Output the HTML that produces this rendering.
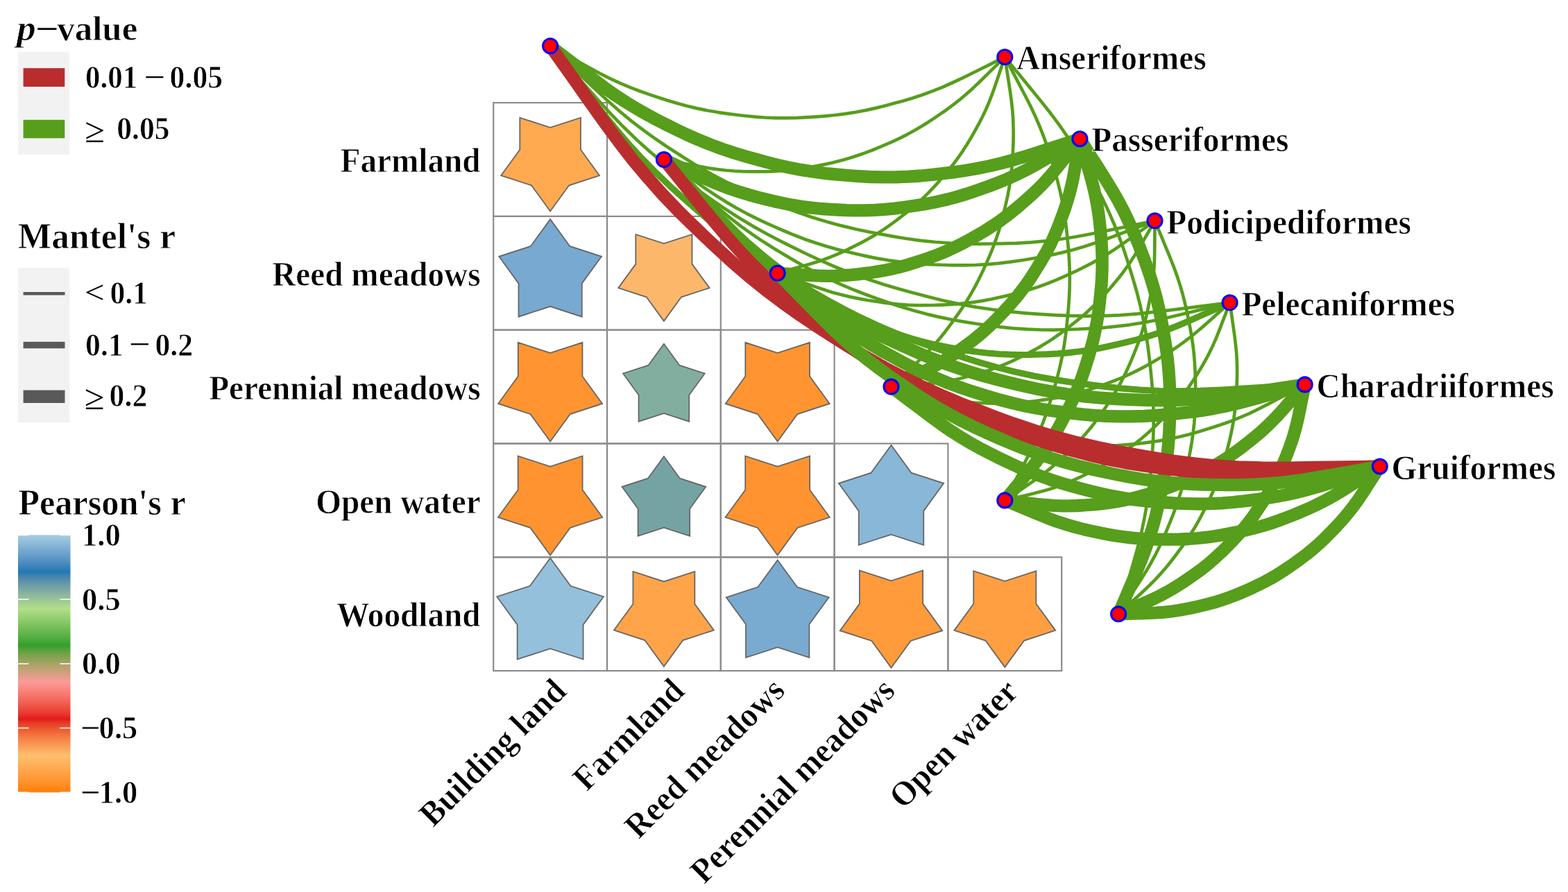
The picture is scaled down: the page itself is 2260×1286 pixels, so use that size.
<!DOCTYPE html>
<html><head><meta charset="utf-8"><title>Mantel test correlation plot</title>
<style>html,body{margin:0;padding:0;background:#fff;width:2260px;height:1286px;overflow:hidden}svg{display:block}text{font-family:"Liberation Serif",serif;font-weight:bold;fill:#000;stroke:#fff;stroke-width:0.8px;stroke-linejoin:round}.n{font-weight:normal;stroke:none}</style></head><body>
<svg width="2260" height="1286" viewBox="0 0 2260 1286">
<rect width="2260" height="1286" fill="#fff"/>
<defs><linearGradient id="cb" x1="0" y1="0" x2="0" y2="1">
<stop offset="0.0000" stop-color="#A6CEE3"/>
<stop offset="0.0179" stop-color="#98C3DD"/>
<stop offset="0.0357" stop-color="#8AB8D7"/>
<stop offset="0.0536" stop-color="#7CADD1"/>
<stop offset="0.0714" stop-color="#6DA2CC"/>
<stop offset="0.0893" stop-color="#5E97C6"/>
<stop offset="0.1071" stop-color="#4D8DC0"/>
<stop offset="0.1250" stop-color="#3982BA"/>
<stop offset="0.1429" stop-color="#1F78B4"/>
<stop offset="0.1607" stop-color="#4484B0"/>
<stop offset="0.1786" stop-color="#5B90AB"/>
<stop offset="0.1964" stop-color="#6D9DA7"/>
<stop offset="0.2143" stop-color="#7DA9A2"/>
<stop offset="0.2321" stop-color="#8CB79D"/>
<stop offset="0.2500" stop-color="#99C497"/>
<stop offset="0.2679" stop-color="#A6D191"/>
<stop offset="0.2857" stop-color="#B2DF8A"/>
<stop offset="0.3036" stop-color="#A4D77E"/>
<stop offset="0.3214" stop-color="#95CF73"/>
<stop offset="0.3393" stop-color="#87C767"/>
<stop offset="0.3571" stop-color="#78C05C"/>
<stop offset="0.3750" stop-color="#68B850"/>
<stop offset="0.3929" stop-color="#58B044"/>
<stop offset="0.4107" stop-color="#47A839"/>
<stop offset="0.4286" stop-color="#33A02C"/>
<stop offset="0.4464" stop-color="#59A13C"/>
<stop offset="0.4643" stop-color="#76A24A"/>
<stop offset="0.4821" stop-color="#8EA358"/>
<stop offset="0.5000" stop-color="#A6A365"/>
<stop offset="0.5179" stop-color="#BCA272"/>
<stop offset="0.5357" stop-color="#D1A07F"/>
<stop offset="0.5536" stop-color="#E69D8C"/>
<stop offset="0.5714" stop-color="#FB9A99"/>
<stop offset="0.5893" stop-color="#FA8D89"/>
<stop offset="0.6071" stop-color="#F88179"/>
<stop offset="0.6250" stop-color="#F67369"/>
<stop offset="0.6429" stop-color="#F3665A"/>
<stop offset="0.6607" stop-color="#F0574A"/>
<stop offset="0.6786" stop-color="#EC473B"/>
<stop offset="0.6964" stop-color="#E8352C"/>
<stop offset="0.7143" stop-color="#E31A1C"/>
<stop offset="0.7321" stop-color="#E83D25"/>
<stop offset="0.7500" stop-color="#EC552F"/>
<stop offset="0.7679" stop-color="#F06939"/>
<stop offset="0.7857" stop-color="#F47C44"/>
<stop offset="0.8036" stop-color="#F78D4E"/>
<stop offset="0.8214" stop-color="#FA9E59"/>
<stop offset="0.8393" stop-color="#FCAF64"/>
<stop offset="0.8571" stop-color="#FDBF6F"/>
<stop offset="0.8750" stop-color="#FEB764"/>
<stop offset="0.8929" stop-color="#FFB059"/>
<stop offset="0.9107" stop-color="#FFA84E"/>
<stop offset="0.9286" stop-color="#FFA042"/>
<stop offset="0.9464" stop-color="#FF9836"/>
<stop offset="0.9643" stop-color="#FF9029"/>
<stop offset="0.9821" stop-color="#FF8719"/>
<stop offset="1.0000" stop-color="#FF7F00"/>
</linearGradient></defs>
<g fill="none" stroke="#8C8C8C" stroke-width="2.20">
<rect x="711.20" y="148.10" width="163.80" height="163.80"/>
<rect x="711.20" y="311.90" width="163.80" height="163.80"/>
<rect x="875.00" y="311.90" width="163.80" height="163.80"/>
<rect x="711.20" y="475.70" width="163.80" height="163.80"/>
<rect x="875.00" y="475.70" width="163.80" height="163.80"/>
<rect x="1038.80" y="475.70" width="163.80" height="163.80"/>
<rect x="711.20" y="639.50" width="163.80" height="163.80"/>
<rect x="875.00" y="639.50" width="163.80" height="163.80"/>
<rect x="1038.80" y="639.50" width="163.80" height="163.80"/>
<rect x="1202.60" y="639.50" width="163.80" height="163.80"/>
<rect x="711.20" y="803.30" width="163.80" height="163.80"/>
<rect x="875.00" y="803.30" width="163.80" height="163.80"/>
<rect x="1038.80" y="803.30" width="163.80" height="163.80"/>
<rect x="1202.60" y="803.30" width="163.80" height="163.80"/>
<rect x="1366.40" y="803.30" width="163.80" height="163.80"/>
</g>
<g stroke="#666666" stroke-width="1.80" stroke-linejoin="miter">
<polygon points="793.10,304.57 820.19,267.29 864.02,253.04 836.93,215.76 836.93,169.67 793.10,183.91 749.27,169.67 749.27,215.76 722.18,253.04 766.01,267.29" fill="#FFA950"/>
<polygon points="793.10,316.13 821.32,354.96 866.97,369.80 838.75,408.63 838.75,456.64 793.10,441.80 747.45,456.64 747.45,408.63 719.23,369.80 764.88,354.96" fill="#78A9D0"/>
<polygon points="956.90,462.87 981.99,428.34 1022.59,415.14 997.50,380.61 997.50,337.92 956.90,351.11 916.30,337.92 916.30,380.61 891.21,415.14 931.81,428.34" fill="#FCB76A"/>
<polygon points="793.10,636.47 821.75,597.04 868.11,581.97 839.46,542.54 839.46,493.79 793.10,508.86 746.74,493.79 746.74,542.54 718.09,581.97 764.45,597.04" fill="#FF9430"/>
<polygon points="956.90,495.73 979.38,526.66 1015.74,538.48 993.27,569.42 993.27,607.65 956.90,595.84 920.53,607.65 920.53,569.42 898.06,538.48 934.42,526.66" fill="#82AEA0"/>
<polygon points="1120.70,636.47 1149.35,597.04 1195.71,581.97 1167.06,542.54 1167.06,493.79 1120.70,508.86 1074.34,493.79 1074.34,542.54 1045.69,581.97 1092.05,597.04" fill="#FF9430"/>
<polygon points="793.10,800.47 821.82,760.94 868.30,745.83 839.58,706.30 839.58,657.43 793.10,672.53 746.62,657.43 746.62,706.30 717.90,745.83 764.38,760.94" fill="#FF932F"/>
<polygon points="956.90,657.93 979.96,689.66 1017.26,701.79 994.21,733.52 994.21,772.75 956.90,760.63 919.59,772.75 919.59,733.52 896.54,701.79 933.84,689.66" fill="#75A3A4"/>
<polygon points="1120.70,800.47 1149.42,760.94 1195.90,745.83 1167.18,706.30 1167.18,657.43 1120.70,672.53 1074.22,657.43 1074.22,706.30 1045.50,745.83 1091.98,760.94" fill="#FF932F"/>
<polygon points="1284.50,641.83 1313.41,681.61 1360.18,696.81 1331.27,736.60 1331.27,785.77 1284.50,770.58 1237.73,785.77 1237.73,736.60 1208.82,696.81 1255.59,681.61" fill="#89B7D7"/>
<polygon points="793.10,804.43 822.44,844.81 869.92,860.24 840.58,900.63 840.58,950.54 793.10,935.12 745.62,950.54 745.62,900.63 716.28,860.24 763.76,844.81" fill="#94C0DC"/>
<polygon points="956.90,960.87 984.39,923.04 1028.87,908.58 1001.38,870.75 1001.38,823.98 956.90,838.43 912.42,823.98 912.42,870.75 884.93,908.58 929.41,923.04" fill="#FFA449"/>
<polygon points="1120.70,807.43 1148.95,846.31 1194.66,861.17 1166.41,900.05 1166.41,948.12 1120.70,933.26 1074.99,948.12 1074.99,900.05 1046.74,861.17 1092.45,846.31" fill="#79AAD0"/>
<polygon points="1284.50,962.77 1312.68,923.99 1358.27,909.17 1330.09,870.39 1330.09,822.44 1284.50,837.26 1238.91,822.44 1238.91,870.39 1210.73,909.17 1256.32,923.99" fill="#FF9B3B"/>
<polygon points="1448.30,961.87 1476.15,923.54 1521.22,908.89 1493.37,870.56 1493.37,823.17 1448.30,837.82 1403.23,823.17 1403.23,870.56 1375.38,908.89 1420.45,923.54" fill="#FF9F42"/>
</g>
<g fill="none" stroke-linecap="butt" stroke-linejoin="round">
<path d="M793.1 66.2 L794.4 66.9 L802.0 71.2 L816.4 79.2 L833.9 89.1 L850.8 98.4 L866.2 106.7 L880.6 113.9 L894.8 120.4 L909.2 126.4 L923.2 131.8 L936.4 136.4 L948.8 140.5 L961.2 144.5 L974.6 148.6 L989.1 152.5 L1004.2 156.1 L1019.4 159.3 L1034.2 161.8 L1048.1 163.8 L1061.0 165.5 L1073.9 167.0 L1087.8 168.4 L1102.8 169.5 L1118.4 170.1 L1133.9 170.2 L1148.9 169.9 L1162.9 169.2 L1175.9 168.3 L1188.9 167.3 L1202.8 166.0 L1217.7 164.1 L1233.1 161.7 L1248.4 158.9 L1263.0 155.6 L1276.6 152.2 L1289.2 148.8 L1301.7 145.4 L1315.1 141.4 L1329.4 136.7 L1344.0 131.4 L1358.6 125.6 L1373.3 119.0 L1389.1 111.6 L1406.4 103.0 L1424.4 94.1 L1439.2 86.7 L1446.9 82.9 L1448.3 82.2" stroke="#569E1B" stroke-width="4.70"/>
<path d="M956.9 230.0 L958.1 230.2 L964.7 231.5 L977.4 234.0 L992.9 237.1 L1007.7 239.9 L1021.1 242.3 L1033.6 244.1 L1045.8 245.5 L1058.0 246.5 L1069.7 247.1 L1080.7 247.3 L1090.8 247.4 L1101.0 247.3 L1112.0 247.1 L1123.7 246.5 L1135.9 245.5 L1148.0 244.1 L1159.6 242.4 L1170.4 240.5 L1180.4 238.6 L1190.4 236.6 L1201.1 234.2 L1212.5 231.3 L1224.2 228.0 L1235.8 224.3 L1246.9 220.4 L1257.2 216.5 L1266.6 212.6 L1276.0 208.7 L1286.0 204.4 L1296.7 199.4 L1307.6 193.8 L1318.2 188.0 L1328.4 182.0 L1337.6 176.2 L1346.2 170.6 L1354.6 164.9 L1363.6 158.7 L1373.1 151.7 L1382.7 144.2 L1392.1 136.3 L1401.5 127.9 L1411.4 118.5 L1422.2 107.9 L1433.4 96.9 L1442.6 87.8 L1447.4 83.0 L1448.3 82.2" stroke="#569E1B" stroke-width="4.70"/>
<path d="M1120.7 393.8 L1121.7 393.5 L1127.4 391.9 L1138.4 388.8 L1151.8 385.0 L1164.5 381.4 L1176.1 377.9 L1186.7 374.4 L1196.8 370.7 L1206.7 366.6 L1216.2 362.4 L1224.9 358.2 L1232.9 354.2 L1240.9 350.1 L1249.4 345.5 L1258.4 340.4 L1267.6 334.8 L1276.5 328.9 L1285.0 322.9 L1292.8 317.2 L1299.8 311.7 L1306.9 306.1 L1314.4 300.0 L1322.2 293.2 L1330.1 285.9 L1337.8 278.4 L1344.9 270.9 L1351.4 263.8 L1357.3 257.0 L1363.1 250.2 L1369.3 242.8 L1375.7 234.6 L1382.0 225.9 L1388.1 217.1 L1393.7 208.3 L1398.6 200.1 L1403.1 192.3 L1407.5 184.5 L1412.1 176.0 L1416.8 166.7 L1421.4 157.0 L1425.6 147.1 L1429.7 136.7 L1433.7 125.4 L1438.0 112.8 L1442.4 99.7 L1446.1 88.8 L1448.0 83.2 L1448.3 82.2" stroke="#569E1B" stroke-width="4.70"/>
<path d="M1284.5 557.6 L1285.4 556.8 L1290.2 552.3 L1299.4 543.6 L1310.7 533.0 L1321.4 522.9 L1331.0 513.6 L1339.7 504.7 L1347.8 495.8 L1355.5 486.7 L1362.7 477.7 L1369.1 469.1 L1375.0 461.0 L1380.8 452.9 L1386.9 444.0 L1393.1 434.3 L1399.3 424.1 L1405.1 413.7 L1410.4 403.5 L1415.1 393.8 L1419.3 384.8 L1423.4 375.7 L1427.6 365.8 L1431.9 355.1 L1436.0 343.9 L1439.7 332.5 L1442.9 321.5 L1445.7 311.1 L1448.0 301.4 L1450.3 291.7 L1452.6 281.2 L1454.7 269.8 L1456.5 258.0 L1457.9 246.2 L1459.0 234.7 L1459.7 224.0 L1460.1 214.0 L1460.5 204.1 L1460.7 193.3 L1460.5 181.8 L1460.1 169.9 L1459.2 157.9 L1457.8 145.6 L1456.0 132.3 L1453.8 117.7 L1451.4 102.4 L1449.5 89.9 L1448.5 83.4 L1448.3 82.2" stroke="#569E1B" stroke-width="4.70"/>
<path d="M1448.3 721.4 L1449.0 720.1 L1452.9 712.6 L1460.5 698.4 L1469.6 681.0 L1478.3 664.4 L1486.0 649.2 L1492.7 634.9 L1498.7 620.9 L1504.2 606.8 L1509.2 593.0 L1513.4 580.0 L1517.1 567.8 L1520.7 555.7 L1524.3 542.5 L1527.8 528.3 L1531.0 513.5 L1533.7 498.5 L1535.8 484.0 L1537.4 470.5 L1538.7 457.9 L1539.9 445.2 L1540.9 431.6 L1541.6 417.0 L1541.8 401.8 L1541.6 386.6 L1540.9 372.0 L1539.9 358.4 L1538.7 345.7 L1537.4 333.1 L1535.8 319.6 L1533.7 305.1 L1531.0 290.1 L1527.8 275.3 L1524.3 261.1 L1520.7 247.9 L1517.1 235.8 L1513.4 223.6 L1509.2 210.6 L1504.2 196.8 L1498.7 182.7 L1492.7 168.7 L1486.0 154.4 L1478.3 139.2 L1469.6 122.6 L1460.5 105.2 L1452.9 91.0 L1449.0 83.5 L1448.3 82.2" stroke="#569E1B" stroke-width="4.70"/>
<path d="M1612.1 885.2 L1612.6 883.4 L1615.7 873.0 L1621.5 853.1 L1628.5 829.0 L1635.2 805.9 L1641.0 784.8 L1645.7 765.2 L1649.7 746.0 L1653.0 726.9 L1655.6 708.3 L1657.6 690.9 L1659.1 674.7 L1660.5 658.5 L1661.7 641.0 L1662.5 622.2 L1662.7 602.8 L1662.2 583.3 L1661.2 564.6 L1659.8 547.1 L1658.2 530.9 L1656.4 514.8 L1654.2 497.4 L1651.3 478.8 L1647.7 459.7 L1643.5 440.7 L1638.9 422.5 L1634.1 405.7 L1629.4 390.1 L1624.6 374.6 L1619.1 358.0 L1612.6 340.3 L1605.4 322.2 L1597.7 304.4 L1589.6 287.4 L1581.7 271.8 L1574.0 257.5 L1566.3 243.2 L1557.7 227.9 L1548.0 211.9 L1537.4 195.5 L1526.2 179.4 L1514.2 163.3 L1500.6 146.1 L1485.4 127.5 L1469.5 108.0 L1456.3 92.0 L1449.5 83.7 L1448.3 82.2" stroke="#569E1B" stroke-width="4.70"/>
<path d="M793.1 66.2 L794.5 67.3 L802.6 73.6 L818.1 85.6 L836.8 100.1 L854.9 114.0 L871.4 126.4 L887.0 137.4 L902.5 147.5 L918.2 157.0 L933.7 165.8 L948.3 173.6 L962.0 180.5 L975.8 187.4 L990.8 194.5 L1007.0 201.6 L1024.1 208.5 L1041.3 214.9 L1058.2 220.5 L1074.0 225.3 L1088.9 229.4 L1103.7 233.5 L1119.7 237.6 L1137.1 241.5 L1155.1 244.9 L1173.3 247.8 L1190.9 250.1 L1207.4 251.7 L1222.7 253.0 L1238.1 254.1 L1254.6 255.0 L1272.4 255.4 L1290.7 255.4 L1309.1 254.7 L1326.9 253.5 L1343.3 251.9 L1358.6 250.2 L1373.9 248.3 L1390.3 246.0 L1407.8 243.0 L1425.8 239.4 L1443.8 235.1 L1462.3 230.1 L1482.0 224.2 L1503.7 217.2 L1526.3 209.9 L1545.0 203.9 L1554.7 200.8 L1556.4 200.2" stroke="#569E1B" stroke-width="18.30"/>
<path d="M956.9 230.0 L958.2 230.6 L965.3 233.9 L979.1 240.3 L995.8 248.1 L1011.7 255.5 L1026.4 262.0 L1040.1 267.6 L1053.5 272.6 L1067.0 277.1 L1080.2 281.1 L1092.6 284.5 L1104.1 287.4 L1115.7 290.2 L1128.2 292.9 L1141.7 295.6 L1155.8 297.9 L1169.9 299.7 L1183.6 301.0 L1196.4 301.9 L1208.3 302.5 L1220.2 303.1 L1233.0 303.4 L1246.8 303.3 L1261.0 302.9 L1275.2 301.9 L1288.9 300.6 L1301.6 299.0 L1313.4 297.3 L1325.2 295.5 L1337.8 293.4 L1351.3 290.7 L1365.2 287.5 L1379.0 283.8 L1392.2 279.9 L1404.3 275.8 L1415.6 271.9 L1426.8 267.9 L1438.8 263.3 L1451.5 258.1 L1464.5 252.2 L1477.4 245.9 L1490.4 239.0 L1504.3 231.1 L1519.5 222.1 L1535.4 212.7 L1548.4 205.0 L1555.2 201.0 L1556.4 200.2" stroke="#569E1B" stroke-width="18.30"/>
<path d="M1120.7 393.8 L1121.8 393.9 L1128.1 394.3 L1140.1 395.1 L1154.7 396.1 L1168.6 397.0 L1181.3 397.6 L1193.1 397.9 L1204.5 397.7 L1215.8 397.2 L1226.7 396.4 L1236.8 395.3 L1246.2 394.2 L1255.6 393.0 L1265.6 391.4 L1276.4 389.5 L1287.5 387.2 L1298.5 384.5 L1309.0 381.6 L1318.7 378.6 L1327.7 375.6 L1336.7 372.6 L1346.3 369.2 L1356.5 365.2 L1366.9 360.8 L1377.1 356.0 L1386.9 351.1 L1395.9 346.3 L1404.1 341.7 L1412.4 337.0 L1421.1 331.8 L1430.3 325.9 L1439.7 319.6 L1448.8 312.9 L1457.5 306.2 L1465.4 299.8 L1472.6 293.6 L1479.7 287.4 L1487.3 280.6 L1495.2 273.1 L1503.2 265.1 L1510.9 256.7 L1518.6 247.8 L1526.6 238.0 L1535.3 227.0 L1544.4 215.5 L1551.8 206.0 L1555.7 201.1 L1556.4 200.2" stroke="#569E1B" stroke-width="18.30"/>
<path d="M1284.5 557.6 L1285.5 557.2 L1290.8 554.7 L1301.1 549.9 L1313.6 544.1 L1325.5 538.5 L1336.3 533.3 L1346.1 528.1 L1355.4 522.9 L1364.5 517.3 L1373.2 511.7 L1381.0 506.2 L1388.3 501.0 L1395.5 495.7 L1403.1 489.9 L1411.1 483.5 L1419.2 476.5 L1427.0 469.3 L1434.4 462.1 L1441.1 455.2 L1447.2 448.7 L1453.2 442.2 L1459.5 435.0 L1466.2 427.1 L1472.7 418.7 L1479.1 410.1 L1484.9 401.7 L1490.1 393.6 L1494.8 386.0 L1499.5 378.4 L1504.3 370.2 L1509.3 361.2 L1514.2 351.7 L1518.7 342.0 L1522.8 332.6 L1526.4 323.7 L1529.5 315.3 L1532.6 307.0 L1535.8 297.9 L1538.9 288.1 L1541.8 277.9 L1544.4 267.5 L1546.8 256.7 L1548.9 244.9 L1551.1 231.9 L1553.4 218.3 L1555.3 207.1 L1556.2 201.3 L1556.4 200.2" stroke="#569E1B" stroke-width="18.30"/>
<path d="M1448.3 721.4 L1449.1 720.4 L1453.5 715.0 L1462.1 704.7 L1472.5 692.1 L1482.4 680.0 L1491.3 668.9 L1499.1 658.4 L1506.4 648.0 L1513.3 637.4 L1519.6 627.0 L1525.3 617.1 L1530.3 607.8 L1535.3 598.5 L1540.5 588.4 L1545.8 577.4 L1550.9 565.8 L1555.6 554.1 L1559.8 542.7 L1563.4 531.9 L1566.6 521.8 L1569.7 511.7 L1572.8 500.8 L1575.9 489.0 L1578.6 476.6 L1581.0 464.2 L1582.9 452.2 L1584.4 440.9 L1585.5 430.4 L1586.6 419.9 L1587.6 408.6 L1588.3 396.4 L1588.6 383.8 L1588.6 371.1 L1588.1 358.9 L1587.4 347.6 L1586.5 337.1 L1585.5 326.6 L1584.3 315.3 L1582.6 303.2 L1580.5 290.7 L1578.0 278.3 L1574.9 265.5 L1571.2 251.8 L1566.9 236.8 L1562.4 221.1 L1558.7 208.2 L1556.7 201.4 L1556.4 200.2" stroke="#569E1B" stroke-width="18.30"/>
<path d="M1612.1 885.2 L1612.7 883.7 L1616.3 875.4 L1623.1 859.5 L1631.4 840.1 L1639.3 821.5 L1646.2 804.5 L1652.1 788.7 L1657.4 773.1 L1662.1 757.5 L1666.1 742.3 L1669.5 728.0 L1672.4 714.7 L1675.2 701.3 L1677.9 686.9 L1680.5 671.3 L1682.6 655.2 L1684.1 638.9 L1685.2 623.2 L1685.8 608.5 L1686.0 594.9 L1686.2 581.3 L1686.1 566.6 L1685.6 550.8 L1684.5 534.6 L1682.9 518.3 L1680.9 502.7 L1678.6 488.2 L1676.3 474.8 L1673.8 461.4 L1670.9 447.0 L1667.3 431.6 L1663.1 415.9 L1658.4 400.3 L1653.4 385.3 L1648.4 371.5 L1643.5 358.8 L1638.5 346.1 L1632.8 332.6 L1626.3 318.2 L1619.2 303.5 L1611.5 289.0 L1603.1 274.4 L1593.5 258.7 L1582.8 241.7 L1571.4 223.9 L1562.1 209.2 L1557.3 201.6 L1556.4 200.2" stroke="#569E1B" stroke-width="18.30"/>
<path d="M793.1 66.2 L794.6 67.7 L803.2 76.0 L819.7 91.9 L839.7 111.2 L859.0 129.6 L876.7 146.1 L893.5 160.8 L910.2 174.6 L927.3 187.7 L944.2 199.8 L960.2 210.7 L975.3 220.5 L990.5 230.2 L1007.0 240.4 L1025.0 250.7 L1044.0 260.9 L1063.3 270.5 L1082.2 279.1 L1100.0 286.7 L1116.7 293.4 L1133.5 300.0 L1151.6 306.8 L1171.3 313.5 L1191.9 319.8 L1212.7 325.4 L1232.9 330.3 L1251.9 334.2 L1269.6 337.6 L1287.3 340.9 L1306.4 344.0 L1327.0 346.8 L1348.4 349.0 L1369.9 350.5 L1390.7 351.4 L1410.0 351.6 L1428.0 351.5 L1446.0 351.2 L1465.4 350.6 L1486.2 349.4 L1507.6 347.4 L1529.1 344.7 L1551.2 341.2 L1575.0 336.8 L1601.1 331.4 L1628.3 325.8 L1650.7 321.1 L1662.4 318.7 L1664.5 318.3" stroke="#569E1B" stroke-width="4.70"/>
<path d="M956.9 230.0 L958.3 231.0 L965.9 236.3 L980.7 246.6 L998.6 259.2 L1015.8 271.1 L1031.6 281.7 L1046.5 291.1 L1061.2 299.7 L1076.1 307.8 L1090.7 315.1 L1104.5 321.6 L1117.4 327.3 L1130.4 333.0 L1144.4 338.8 L1159.7 344.7 L1175.7 350.2 L1191.8 355.3 L1207.6 359.7 L1222.4 363.3 L1236.2 366.5 L1250.0 369.6 L1264.9 372.6 L1281.0 375.3 L1297.8 377.7 L1314.6 379.5 L1330.9 380.8 L1346.1 381.5 L1360.3 382.0 L1374.4 382.3 L1389.6 382.4 L1406.0 382.0 L1422.9 381.1 L1439.7 379.6 L1456.0 377.7 L1471.1 375.5 L1485.0 373.2 L1499.0 370.8 L1513.9 367.9 L1529.9 364.4 L1546.3 360.2 L1562.6 355.5 L1579.3 350.1 L1597.3 343.7 L1616.9 336.3 L1637.3 328.6 L1654.2 322.2 L1662.9 318.9 L1664.5 318.3" stroke="#569E1B" stroke-width="4.70"/>
<path d="M1120.7 393.8 L1121.9 394.2 L1128.7 396.7 L1141.7 401.4 L1157.6 407.2 L1172.7 412.6 L1186.6 417.3 L1199.5 421.4 L1212.1 424.8 L1224.8 427.9 L1237.1 430.4 L1248.7 432.5 L1259.5 434.2 L1270.2 435.8 L1281.9 437.3 L1294.4 438.6 L1307.4 439.6 L1320.4 440.1 L1333.0 440.2 L1344.7 440.0 L1355.6 439.6 L1366.5 439.1 L1378.2 438.4 L1390.7 437.2 L1403.6 435.6 L1416.5 433.6 L1428.9 431.3 L1440.4 428.8 L1451.0 426.4 L1461.6 423.8 L1472.9 420.8 L1485.0 417.2 L1497.4 413.2 L1509.6 408.7 L1521.3 404.1 L1532.1 399.4 L1542.0 394.9 L1551.9 390.4 L1562.4 385.2 L1573.6 379.4 L1585.0 373.1 L1596.2 366.3 L1607.5 358.9 L1619.6 350.6 L1632.7 341.2 L1646.3 331.4 L1657.6 323.3 L1663.5 319.1 L1664.5 318.3" stroke="#569E1B" stroke-width="4.70"/>
<path d="M1284.5 557.6 L1285.5 557.5 L1291.4 557.1 L1302.7 556.2 L1316.5 555.2 L1329.6 554.1 L1341.5 553.0 L1352.5 551.6 L1363.1 550.0 L1373.6 548.0 L1383.6 545.7 L1392.9 543.3 L1401.5 541.0 L1410.1 538.6 L1419.3 535.8 L1429.1 532.6 L1439.1 528.9 L1448.9 524.9 L1458.4 520.8 L1467.0 516.7 L1475.0 512.7 L1483.0 508.7 L1491.5 504.2 L1500.4 499.1 L1509.5 493.6 L1518.4 487.7 L1526.9 481.8 L1534.6 476.1 L1541.7 470.7 L1548.7 465.2 L1556.1 459.2 L1564.0 452.5 L1571.8 445.3 L1579.5 437.9 L1586.6 430.4 L1593.1 423.4 L1599.0 416.7 L1604.8 409.9 L1610.9 402.6 L1617.3 394.5 L1623.6 385.9 L1629.7 377.1 L1635.7 367.8 L1641.9 357.5 L1648.5 346.1 L1655.4 334.2 L1661.0 324.3 L1664.0 319.2 L1664.5 318.3" stroke="#569E1B" stroke-width="4.70"/>
<path d="M1448.3 721.4 L1449.2 720.8 L1454.2 717.4 L1463.8 711.0 L1475.4 703.2 L1486.5 695.6 L1496.5 688.6 L1505.6 681.9 L1514.1 675.1 L1522.4 668.0 L1530.1 661.0 L1537.2 654.2 L1543.6 647.8 L1550.0 641.4 L1556.7 634.3 L1563.8 626.5 L1570.8 618.2 L1577.5 609.7 L1583.8 601.3 L1589.4 593.3 L1594.5 585.8 L1599.5 578.2 L1604.7 570.0 L1610.1 561.0 L1615.4 551.5 L1620.4 541.8 L1624.9 532.4 L1628.9 523.4 L1632.4 515.1 L1635.8 506.7 L1639.4 497.6 L1642.9 487.7 L1646.3 477.4 L1649.3 467.0 L1651.9 456.8 L1654.1 447.3 L1655.9 438.4 L1657.7 429.5 L1659.4 419.9 L1661.0 409.5 L1662.3 398.7 L1663.3 387.8 L1663.9 376.6 L1664.2 364.4 L1664.3 351.0 L1664.4 336.9 L1664.5 325.4 L1664.5 319.4 L1664.5 318.3" stroke="#569E1B" stroke-width="4.70"/>
<path d="M1612.1 885.2 L1612.8 884.1 L1616.9 877.8 L1624.8 865.8 L1634.3 851.1 L1643.4 837.1 L1651.5 824.2 L1658.6 812.2 L1665.1 800.2 L1671.1 788.1 L1676.6 776.3 L1681.4 765.1 L1685.7 754.7 L1689.9 744.2 L1694.2 732.8 L1698.4 720.4 L1702.5 707.6 L1706.1 694.5 L1709.2 681.9 L1711.7 670.0 L1713.9 658.9 L1716.0 647.8 L1718.0 635.8 L1719.8 622.8 L1721.3 609.4 L1722.3 595.9 L1722.9 582.9 L1723.1 570.7 L1723.1 559.4 L1723.0 548.2 L1722.6 536.0 L1721.9 523.0 L1720.8 509.5 L1719.2 496.1 L1717.2 483.2 L1715.1 471.2 L1712.9 460.1 L1710.6 449.1 L1707.9 437.2 L1704.7 424.5 L1701.0 411.6 L1696.8 398.6 L1692.0 385.4 L1686.5 371.3 L1680.1 355.9 L1673.4 339.7 L1667.9 326.4 L1665.0 319.5 L1664.5 318.3" stroke="#569E1B" stroke-width="4.70"/>
<path d="M793.1 66.2 L794.7 68.0 L803.8 78.3 L821.4 98.2 L842.6 122.2 L863.0 145.2 L881.9 165.8 L899.9 184.3 L917.9 201.7 L936.3 218.3 L954.7 233.8 L972.1 247.8 L988.6 260.5 L1005.1 273.1 L1023.2 286.2 L1043.0 299.8 L1063.9 313.3 L1085.2 326.1 L1106.2 337.7 L1126.0 348.1 L1144.6 357.4 L1163.3 366.5 L1183.5 375.9 L1205.6 385.5 L1228.7 394.6 L1252.1 403.0 L1274.9 410.5 L1296.3 416.8 L1316.4 422.3 L1336.5 427.6 L1358.2 433.0 L1381.6 438.1 L1406.1 442.6 L1430.6 446.3 L1454.5 449.2 L1476.8 451.3 L1497.5 452.8 L1518.2 454.2 L1540.6 455.2 L1564.6 455.7 L1589.4 455.4 L1614.4 454.3 L1640.1 452.3 L1667.9 449.4 L1698.4 445.6 L1730.3 441.6 L1756.5 438.4 L1770.2 436.7 L1772.6 436.3" stroke="#569E1B" stroke-width="4.70"/>
<path d="M956.9 230.0 L958.4 231.3 L966.6 238.7 L982.4 253.0 L1001.5 270.2 L1019.9 286.7 L1036.9 301.4 L1052.9 314.6 L1068.9 326.8 L1085.1 338.4 L1101.1 349.1 L1116.4 358.7 L1130.6 367.3 L1145.0 375.8 L1160.6 384.7 L1177.7 393.8 L1195.6 402.6 L1213.8 410.9 L1231.6 418.3 L1248.3 424.8 L1264.0 430.5 L1279.8 436.0 L1296.8 441.7 L1315.3 447.3 L1334.6 452.6 L1354.0 457.1 L1372.9 461.0 L1390.6 464.1 L1407.1 466.7 L1423.6 469.1 L1441.4 471.4 L1460.6 473.3 L1480.6 474.7 L1500.5 475.5 L1519.8 475.6 L1537.8 475.2 L1554.4 474.5 L1571.1 473.7 L1589.1 472.6 L1608.3 470.7 L1628.1 468.3 L1647.9 465.1 L1668.3 461.2 L1690.2 456.3 L1714.2 450.5 L1739.3 444.4 L1759.9 439.4 L1770.7 436.8 L1772.6 436.3" stroke="#569E1B" stroke-width="4.70"/>
<path d="M1120.7 393.8 L1122.0 394.6 L1129.3 399.1 L1143.4 407.7 L1160.5 418.2 L1176.8 428.2 L1191.8 437.1 L1205.9 444.8 L1219.8 451.9 L1233.9 458.5 L1247.6 464.4 L1260.6 469.6 L1272.7 474.2 L1284.9 478.6 L1298.1 483.2 L1312.4 487.7 L1327.3 491.9 L1342.3 495.7 L1357.0 498.8 L1370.7 501.4 L1383.5 503.6 L1396.3 505.6 L1410.1 507.5 L1425.0 509.2 L1440.4 510.5 L1455.9 511.2 L1470.9 511.5 L1484.8 511.4 L1497.8 511.0 L1510.8 510.6 L1524.7 509.8 L1539.6 508.6 L1555.0 506.8 L1570.4 504.6 L1585.1 501.9 L1598.8 499.1 L1611.4 496.3 L1624.0 493.3 L1637.6 489.9 L1652.0 485.8 L1666.8 481.1 L1681.5 475.9 L1696.4 470.0 L1712.5 463.2 L1730.0 455.4 L1748.3 447.2 L1763.4 440.5 L1771.2 437.0 L1772.6 436.3" stroke="#569E1B" stroke-width="9.20"/>
<path d="M1284.5 557.6 L1285.6 557.9 L1292.1 559.5 L1304.4 562.5 L1319.4 566.2 L1333.7 569.7 L1346.8 572.7 L1359.0 575.1 L1370.8 577.0 L1382.6 578.6 L1394.1 579.7 L1404.8 580.5 L1414.8 581.0 L1424.8 581.4 L1435.5 581.7 L1447.0 581.7 L1459.0 581.3 L1470.9 580.5 L1482.4 579.4 L1493.0 578.1 L1502.9 576.7 L1512.8 575.2 L1523.4 573.4 L1534.7 571.1 L1546.3 568.4 L1557.8 565.3 L1568.9 562.0 L1579.1 558.7 L1588.5 555.4 L1597.9 552.0 L1607.9 548.2 L1618.6 543.8 L1629.5 538.9 L1640.2 533.7 L1650.4 528.3 L1659.8 523.0 L1668.4 518.0 L1677.0 512.9 L1686.1 507.2 L1695.7 500.8 L1705.4 493.9 L1715.0 486.7 L1724.6 478.8 L1734.8 470.1 L1745.8 460.3 L1757.3 450.0 L1766.8 441.5 L1771.7 437.1 L1772.6 436.3" stroke="#569E1B" stroke-width="4.70"/>
<path d="M1448.3 721.4 L1449.3 721.2 L1454.8 719.8 L1465.4 717.3 L1478.3 714.2 L1490.6 711.2 L1501.8 708.3 L1512.0 705.4 L1521.8 702.2 L1531.4 698.7 L1540.6 695.0 L1549.1 691.4 L1556.9 687.8 L1564.6 684.2 L1572.9 680.2 L1581.7 675.6 L1590.7 670.6 L1599.4 665.3 L1607.8 659.9 L1615.4 654.7 L1622.3 649.7 L1629.3 644.7 L1636.6 639.2 L1644.4 633.0 L1652.2 626.3 L1659.8 619.4 L1666.9 612.6 L1673.3 606.0 L1679.2 599.8 L1685.0 593.5 L1691.2 586.6 L1697.6 579.0 L1704.0 571.0 L1710.1 562.8 L1715.7 554.7 L1720.8 547.0 L1725.4 539.7 L1729.9 532.4 L1734.6 524.5 L1739.4 515.8 L1744.1 506.7 L1748.5 497.4 L1752.8 487.7 L1757.1 477.0 L1761.6 465.2 L1766.3 452.8 L1770.2 442.6 L1772.2 437.3 L1772.6 436.3" stroke="#569E1B" stroke-width="4.70"/>
<path d="M1612.1 885.2 L1612.9 884.4 L1617.5 880.2 L1626.4 872.1 L1637.2 862.2 L1647.5 852.7 L1656.7 844.0 L1665.0 835.6 L1672.7 827.3 L1680.2 818.8 L1687.1 810.3 L1693.3 802.2 L1698.9 794.6 L1704.5 787.0 L1710.4 778.7 L1716.4 769.6 L1722.4 759.9 L1728.0 750.1 L1733.1 740.5 L1737.7 731.4 L1741.8 722.8 L1745.8 714.3 L1749.9 705.0 L1754.1 694.9 L1758.0 684.3 L1761.7 673.6 L1764.9 663.1 L1767.6 653.3 L1769.9 644.1 L1772.2 634.9 L1774.4 625.0 L1776.6 614.3 L1778.4 603.1 L1779.9 591.9 L1781.0 581.0 L1781.8 570.9 L1782.3 561.4 L1782.8 552.0 L1783.1 541.8 L1783.1 530.9 L1782.8 519.6 L1782.1 508.2 L1780.9 496.5 L1779.4 483.9 L1777.4 470.0 L1775.4 455.6 L1773.6 443.7 L1772.8 437.5 L1772.6 436.3" stroke="#569E1B" stroke-width="4.70"/>
<path d="M793.1 66.2 L794.8 68.4 L804.5 80.7 L823.0 104.5 L845.5 133.3 L867.1 160.8 L887.2 185.5 L906.3 207.8 L925.6 228.8 L945.4 248.9 L965.1 267.8 L984.0 284.9 L1001.8 300.5 L1019.8 315.9 L1039.4 332.1 L1061.0 349.0 L1083.8 365.7 L1107.1 381.7 L1130.2 396.4 L1152.0 409.5 L1172.5 421.3 L1193.1 433.0 L1215.4 445.1 L1239.8 457.5 L1265.5 469.5 L1291.4 480.6 L1316.9 490.6 L1340.8 499.3 L1363.2 507.0 L1385.7 514.4 L1410.0 522.0 L1436.3 529.4 L1463.7 536.2 L1491.4 542.2 L1518.3 547.1 L1543.5 551.0 L1566.9 554.1 L1590.4 557.1 L1615.7 559.9 L1642.9 562.1 L1671.2 563.5 L1699.7 563.9 L1729.0 563.4 L1760.8 562.0 L1795.7 559.8 L1832.2 557.5 L1862.3 555.6 L1877.9 554.6 L1880.7 554.4" stroke="#569E1B" stroke-width="9.20"/>
<path d="M956.9 230.0 L958.5 231.7 L967.2 241.1 L984.0 259.3 L1004.4 281.3 L1024.0 302.3 L1042.1 321.1 L1059.3 338.1 L1076.5 353.9 L1094.2 369.0 L1111.6 383.1 L1128.2 395.8 L1143.9 407.3 L1159.7 418.7 L1176.9 430.6 L1195.6 442.9 L1215.5 455.0 L1235.7 466.5 L1255.5 476.9 L1274.3 486.2 L1291.9 494.4 L1309.6 502.5 L1328.7 510.9 L1349.5 519.3 L1371.3 527.4 L1393.4 534.7 L1414.9 541.2 L1435.1 546.6 L1453.9 551.3 L1472.8 555.9 L1493.2 560.4 L1515.3 564.6 L1538.2 568.3 L1561.3 571.3 L1583.6 573.4 L1604.5 574.9 L1623.9 575.9 L1643.3 576.7 L1664.2 577.2 L1686.7 577.1 L1709.9 576.3 L1733.2 574.7 L1757.2 572.2 L1783.1 568.9 L1811.5 564.7 L1841.2 560.3 L1865.7 556.6 L1878.4 554.7 L1880.7 554.4" stroke="#569E1B" stroke-width="18.30"/>
<path d="M1120.7 393.8 L1122.1 395.0 L1129.9 401.5 L1145.0 414.0 L1163.3 429.3 L1180.9 443.8 L1197.1 456.8 L1212.4 468.3 L1227.5 479.0 L1242.9 489.1 L1258.1 498.4 L1272.5 506.7 L1286.0 514.1 L1299.6 521.5 L1314.3 529.1 L1330.3 536.8 L1347.2 544.3 L1364.2 551.3 L1380.9 557.5 L1396.7 562.8 L1411.3 567.5 L1426.1 572.1 L1442.0 576.7 L1459.2 581.2 L1477.2 585.3 L1495.3 588.8 L1512.9 591.7 L1529.3 593.9 L1544.6 595.7 L1560.0 597.3 L1576.5 598.8 L1594.3 599.9 L1612.7 600.4 L1631.1 600.4 L1648.9 599.8 L1665.5 598.8 L1680.9 597.6 L1696.2 596.2 L1712.7 594.5 L1730.4 592.1 L1748.5 589.1 L1766.7 585.5 L1785.4 581.1 L1805.4 575.8 L1827.3 569.6 L1850.3 563.1 L1869.1 557.7 L1879.0 554.9 L1880.7 554.4" stroke="#569E1B" stroke-width="18.30"/>
<path d="M1284.5 557.6 L1285.7 558.2 L1292.7 561.9 L1306.0 568.8 L1322.3 577.3 L1337.8 585.3 L1352.0 592.4 L1365.4 598.6 L1378.5 604.1 L1391.7 609.2 L1404.6 613.7 L1416.7 617.6 L1428.1 621.0 L1439.4 624.3 L1451.7 627.6 L1465.0 630.8 L1478.9 633.7 L1492.8 636.1 L1506.3 638.0 L1519.0 639.5 L1530.8 640.6 L1542.6 641.7 L1555.3 642.5 L1568.9 643.1 L1583.1 643.3 L1597.2 642.9 L1610.9 642.2 L1623.6 641.2 L1635.3 640.1 L1647.1 638.8 L1659.7 637.2 L1673.2 635.1 L1687.2 632.5 L1701.0 629.5 L1714.2 626.2 L1726.5 622.7 L1737.8 619.3 L1749.1 615.8 L1761.2 611.8 L1774.1 607.2 L1787.2 601.9 L1800.3 596.3 L1813.5 589.9 L1827.7 582.7 L1843.2 574.5 L1859.3 565.9 L1872.6 558.8 L1879.5 555.1 L1880.7 554.4" stroke="#569E1B" stroke-width="4.70"/>
<path d="M1448.3 721.4 L1449.4 721.5 L1455.4 722.2 L1467.1 723.6 L1481.2 725.3 L1494.7 726.8 L1507.0 728.0 L1518.4 728.8 L1529.5 729.3 L1540.5 729.3 L1551.1 729.0 L1561.0 728.5 L1570.1 727.8 L1579.3 727.1 L1589.2 726.1 L1599.7 724.7 L1610.6 723.0 L1621.4 720.9 L1631.7 718.6 L1641.3 716.1 L1650.2 713.7 L1659.1 711.2 L1668.5 708.3 L1678.6 705.0 L1688.9 701.2 L1699.1 697.1 L1708.9 692.8 L1717.8 688.5 L1726.0 684.4 L1734.2 680.3 L1743.0 675.6 L1752.2 670.4 L1761.6 664.6 L1770.8 658.6 L1779.5 652.5 L1787.5 646.7 L1794.8 641.0 L1802.0 635.4 L1809.7 629.1 L1817.8 622.2 L1825.9 614.8 L1833.8 607.0 L1841.7 598.8 L1850.0 589.6 L1859.0 579.4 L1868.3 568.6 L1876.0 559.8 L1880.0 555.2 L1880.7 554.4" stroke="#569E1B" stroke-width="18.30"/>
<path d="M1612.1 885.2 L1613.0 884.8 L1618.2 882.6 L1628.1 878.4 L1640.1 873.3 L1651.6 868.3 L1662.0 863.7 L1671.4 859.1 L1680.4 854.4 L1689.2 849.4 L1697.6 844.3 L1705.2 839.4 L1712.2 834.6 L1719.2 829.8 L1726.6 824.6 L1734.4 818.7 L1742.3 812.3 L1749.9 805.7 L1757.1 799.1 L1763.7 792.8 L1769.6 786.8 L1775.6 780.8 L1781.8 774.1 L1788.3 766.9 L1794.8 759.1 L1801.1 751.2 L1806.9 743.3 L1812.1 735.8 L1816.7 728.8 L1821.4 721.7 L1826.2 714.0 L1831.2 705.6 L1836.1 696.8 L1840.7 687.7 L1844.9 678.9 L1848.5 670.6 L1851.8 662.8 L1855.0 654.9 L1858.2 646.4 L1861.5 637.2 L1864.6 627.6 L1867.3 617.8 L1869.9 607.6 L1872.3 596.5 L1874.8 584.2 L1877.3 571.4 L1879.4 560.9 L1880.5 555.4 L1880.7 554.4" stroke="#569E1B" stroke-width="18.30"/>
<path d="M793.1 66.2 L794.9 68.8 L805.1 83.1 L824.7 110.8 L848.4 144.4 L871.2 176.4 L892.4 205.2 L912.7 231.3 L933.3 255.8 L954.4 279.6 L975.6 301.9 L995.9 322.1 L1015.1 340.5 L1034.5 358.7 L1055.6 378.0 L1078.9 398.1 L1103.7 418.1 L1129.1 437.2 L1154.1 455.0 L1177.9 470.9 L1200.3 485.3 L1222.8 499.5 L1247.4 514.3 L1274.1 529.5 L1302.2 544.3 L1330.8 558.2 L1358.9 570.8 L1385.3 581.9 L1410.0 591.6 L1434.9 601.2 L1461.8 611.0 L1490.9 620.7 L1521.4 629.9 L1552.2 638.0 L1582.1 644.9 L1610.2 650.7 L1636.3 655.5 L1662.5 660.1 L1690.8 664.5 L1721.3 668.4 L1753.0 671.5 L1784.9 673.5 L1817.9 674.5 L1853.7 674.6 L1893.1 674.0 L1934.2 673.4 L1968.0 672.8 L1985.7 672.5 L1988.8 672.5" stroke="#B92D2F" stroke-width="18.30"/>
<path d="M956.9 230.0 L958.6 232.0 L967.8 243.5 L985.7 265.6 L1007.3 292.4 L1028.1 317.9 L1047.4 340.9 L1065.8 361.5 L1084.2 381.0 L1103.2 399.7 L1122.1 417.1 L1140.1 432.9 L1157.2 447.3 L1174.3 461.5 L1193.1 476.5 L1213.6 492.0 L1235.4 507.4 L1257.6 522.1 L1279.5 535.6 L1300.3 547.6 L1319.8 558.4 L1339.3 569.0 L1360.6 580.1 L1383.8 591.4 L1408.1 602.2 L1432.7 612.3 L1456.9 621.4 L1479.5 629.2 L1500.8 636.0 L1522.0 642.7 L1545.0 649.4 L1569.9 656.0 L1595.9 662.0 L1622.0 667.1 L1647.4 671.3 L1671.2 674.6 L1693.3 677.2 L1715.5 679.6 L1739.3 681.8 L1765.0 683.4 L1791.7 684.3 L1818.5 684.3 L1846.1 683.3 L1876.0 681.5 L1908.9 678.9 L1943.2 676.1 L1971.5 673.9 L1986.2 672.7 L1988.8 672.5" stroke="#B92D2F" stroke-width="18.30"/>
<path d="M1120.7 393.8 L1122.2 395.3 L1130.6 403.9 L1146.7 420.4 L1166.2 440.3 L1185.0 459.4 L1202.3 476.5 L1218.8 491.8 L1235.2 506.1 L1252.0 519.8 L1268.6 532.4 L1284.4 543.8 L1299.3 554.1 L1314.2 564.3 L1330.5 575.0 L1348.3 585.9 L1367.1 596.7 L1386.2 606.9 L1404.9 616.1 L1422.6 624.2 L1439.2 631.5 L1455.8 638.6 L1473.9 645.9 L1493.5 653.2 L1514.0 660.2 L1534.7 666.4 L1554.9 671.9 L1573.8 676.5 L1591.5 680.4 L1609.2 684.1 L1628.3 687.8 L1648.9 691.2 L1670.4 694.1 L1691.9 696.2 L1712.7 697.7 L1732.2 698.5 L1750.3 698.9 L1768.4 699.2 L1787.8 699.1 L1808.7 698.5 L1830.3 697.1 L1852.0 695.1 L1874.3 692.2 L1898.3 688.4 L1924.7 683.8 L1952.2 678.9 L1974.9 674.9 L1986.7 672.8 L1988.8 672.5" stroke="#569E1B" stroke-width="18.30"/>
<path d="M1284.5 557.6 L1285.8 558.6 L1293.3 564.3 L1307.7 575.1 L1325.2 588.3 L1341.9 600.9 L1357.3 612.1 L1371.8 622.1 L1386.2 631.2 L1400.7 639.8 L1415.1 647.7 L1428.6 654.7 L1441.3 661.0 L1454.1 667.1 L1467.9 673.5 L1483.0 679.9 L1498.8 686.0 L1514.7 691.7 L1530.3 696.7 L1545.0 700.9 L1558.6 704.6 L1572.3 708.2 L1587.2 711.7 L1603.2 715.1 L1619.8 718.1 L1636.6 720.6 L1652.9 722.4 L1668.0 723.8 L1682.2 724.7 L1696.3 725.6 L1711.5 726.2 L1727.9 726.5 L1744.8 726.2 L1761.7 725.3 L1778.0 724.0 L1793.2 722.4 L1807.3 720.6 L1821.3 718.7 L1836.4 716.4 L1852.5 713.5 L1869.0 710.0 L1885.5 705.8 L1902.5 701.0 L1920.6 695.3 L1940.5 688.7 L1961.2 681.7 L1978.3 676.0 L1987.2 673.0 L1988.8 672.5" stroke="#569E1B" stroke-width="18.30"/>
<path d="M1448.3 721.4 L1449.5 721.9 L1456.1 724.6 L1468.7 729.9 L1484.1 736.3 L1498.8 742.4 L1512.3 747.8 L1524.8 752.3 L1537.1 756.3 L1549.5 759.9 L1561.6 763.0 L1572.9 765.6 L1583.4 767.8 L1594.0 769.9 L1605.4 772.0 L1617.7 773.8 L1630.5 775.4 L1643.3 776.5 L1655.7 777.2 L1667.3 777.6 L1678.1 777.7 L1688.8 777.7 L1700.4 777.5 L1712.9 777.0 L1725.7 776.0 L1738.5 774.7 L1750.8 773.0 L1762.3 771.1 L1772.9 769.1 L1783.4 767.0 L1794.8 764.6 L1806.9 761.7 L1819.3 758.3 L1831.6 754.5 L1843.4 750.4 L1854.2 746.3 L1864.2 742.4 L1874.2 738.3 L1884.9 733.7 L1896.2 728.5 L1907.7 722.8 L1919.1 716.6 L1930.6 709.9 L1942.9 702.2 L1956.3 693.6 L1970.3 684.5 L1981.8 677.0 L1987.7 673.1 L1988.8 672.5" stroke="#569E1B" stroke-width="18.30"/>
<path d="M1612.1 885.2 L1613.1 885.2 L1618.8 885.0 L1629.7 884.7 L1643.0 884.3 L1655.7 883.9 L1667.2 883.4 L1677.8 882.6 L1688.1 881.5 L1698.3 880.0 L1708.0 878.3 L1717.1 876.5 L1725.5 874.6 L1733.8 872.7 L1742.8 870.4 L1752.4 867.8 L1762.2 864.7 L1771.9 861.3 L1781.1 857.8 L1789.6 854.2 L1797.5 850.8 L1805.3 847.3 L1813.7 843.3 L1822.6 838.9 L1831.6 834.0 L1840.4 828.8 L1848.8 823.5 L1856.5 818.4 L1863.6 813.5 L1870.6 808.5 L1878.0 803.0 L1885.9 796.9 L1893.8 790.4 L1901.5 783.6 L1908.7 776.8 L1915.2 770.3 L1921.2 764.1 L1927.1 757.9 L1933.4 751.1 L1939.9 743.6 L1946.4 735.6 L1952.6 727.4 L1958.8 718.7 L1965.2 709.1 L1972.1 698.4 L1979.3 687.3 L1985.2 678.1 L1988.3 673.3 L1988.8 672.5" stroke="#569E1B" stroke-width="18.30"/>
</g>
<g fill="#FF0000" stroke="#0000FF" stroke-width="3.1">
<circle cx="793.1" cy="66.2" r="10.5"/>
<circle cx="956.9" cy="230.0" r="10.5"/>
<circle cx="1120.7" cy="393.8" r="10.5"/>
<circle cx="1284.5" cy="557.6" r="10.5"/>
<circle cx="1448.3" cy="721.4" r="10.5"/>
<circle cx="1612.1" cy="885.2" r="10.5"/>
<circle cx="1448.3" cy="82.2" r="10.5"/>
<circle cx="1556.4" cy="200.2" r="10.5"/>
<circle cx="1664.5" cy="318.3" r="10.5"/>
<circle cx="1772.6" cy="436.3" r="10.5"/>
<circle cx="1880.7" cy="554.4" r="10.5"/>
<circle cx="1988.8" cy="672.5" r="10.5"/>
</g>
<text transform="translate(1465.10 100.40) scale(0.9480 1)" font-size="50.00">Anseriformes</text>
<text transform="translate(1573.20 218.45) scale(0.9480 1)" font-size="50.00">Passeriformes</text>
<text transform="translate(1681.30 336.50) scale(0.9480 1)" font-size="50.00">Podicipediformes</text>
<text transform="translate(1789.40 454.55) scale(0.9480 1)" font-size="50.00">Pelecaniformes</text>
<text transform="translate(1897.50 572.60) scale(0.9480 1)" font-size="50.00">Charadriiformes</text>
<text transform="translate(2005.60 690.65) scale(0.9480 1)" font-size="50.00">Gruiformes</text>
<text transform="translate(692.60 248.20) scale(0.9450 1)" font-size="50.00" text-anchor="end">Farmland</text>
<text transform="translate(692.60 412.00) scale(0.9450 1)" font-size="50.00" text-anchor="end">Reed meadows</text>
<text transform="translate(692.60 575.80) scale(0.9450 1)" font-size="50.00" text-anchor="end">Perennial meadows</text>
<text transform="translate(692.60 739.60) scale(0.9450 1)" font-size="50.00" text-anchor="end">Open water</text>
<text transform="translate(692.60 903.40) scale(0.9450 1)" font-size="50.00" text-anchor="end">Woodland</text>
<text transform="translate(796.30 976.50) rotate(-45) scale(0.9480 1)" font-size="50.00" text-anchor="end" y="32.00">Building land</text>
<text transform="translate(966.50 975.90) rotate(-45) scale(0.9480 1)" font-size="50.00" text-anchor="end" y="32.00">Farmland</text>
<text transform="translate(1111.10 975.30) rotate(-45) scale(0.9480 1)" font-size="50.00" text-anchor="end" y="32.00">Reed meadows</text>
<text transform="translate(1270.00 975.50) rotate(-45) scale(0.9480 1)" font-size="50.00" text-anchor="end" y="32.00">Perennial meadows</text>
<text transform="translate(1447.50 977.00) rotate(-45) scale(0.9480 1)" font-size="50.00" text-anchor="end" y="32.00">Open water</text>
<text transform="translate(24.00 58.30) scale(1.0600 1)" font-size="52.50" font-style="italic">p</text>
<text transform="translate(50.60 58.60) scale(1.1600 1)" font-size="52.50">−</text>
<text transform="translate(82.20 58.30) scale(1.0000 1)" font-size="51.00">value</text>
<rect x="26.0" y="74.7" width="74.3" height="148.3" fill="#F2F2F2"/>
<line x1="33.6" x2="93.3" y1="111.7" y2="111.7" stroke="#B92D2F" stroke-width="26.7"/>
<line x1="33.6" x2="93.3" y1="186.0" y2="186.0" stroke="#569E1B" stroke-width="26.7"/>
<text transform="translate(123.10 127.00) scale(0.9150 1)" font-size="47.00">0.01</text>
<text transform="translate(207.80 126.70) scale(1.1500 1)" font-size="47.00" class="n">−</text>
<text transform="translate(244.60 127.00) scale(0.9300 1)" font-size="47.00">0.05</text>
<text transform="translate(122.20 204.80) scale(1.0400 1)" font-size="50.50" class="n">≥</text>
<text transform="translate(168.20 200.90) scale(0.9300 1)" font-size="47.00">0.05</text>
<text transform="translate(25.80 357.80) scale(0.9620 1)" font-size="53.50">Mantel's r</text>
<rect x="26.0" y="386.2" width="74.3" height="223" fill="#F2F2F2"/>
<line x1="33.6" x2="93.5" y1="423.3" y2="423.3" stroke="#595959" stroke-width="4.60"/>
<line x1="33.6" x2="93.5" y1="497.5" y2="497.5" stroke="#595959" stroke-width="9.40"/>
<line x1="33.6" x2="93.5" y1="571.8" y2="571.8" stroke="#595959" stroke-width="18.40"/>
<text transform="translate(121.80 437.20) scale(1.0900 1)" font-size="47.00" class="n">&lt;</text>
<text transform="translate(158.50 437.50) scale(0.9300 1)" font-size="47.00">0.1</text>
<text transform="translate(123.10 512.50) scale(0.9300 1)" font-size="47.00">0.1</text>
<text transform="translate(186.30 512.20) scale(1.1500 1)" font-size="47.00" class="n">−</text>
<text transform="translate(223.50 512.50) scale(0.9300 1)" font-size="47.00">0.2</text>
<text transform="translate(121.80 589.80) scale(1.0400 1)" font-size="50.50" class="n">≥</text>
<text transform="translate(157.60 586.30) scale(0.9300 1)" font-size="47.00">0.2</text>
<text transform="translate(26.20 742.40) scale(0.9400 1)" font-size="53.50">Pearson's r</text>
<rect x="26.0" y="771.3" width="75.5" height="371.1" fill="url(#cb)"/>
<g stroke="#fff" stroke-opacity="0.85" stroke-width="1.8">
<line x1="26.0" x2="41.3" y1="771.3" y2="771.3"/>
<line x1="86.2" x2="101.5" y1="771.3" y2="771.3"/>
<line x1="26.0" x2="41.3" y1="864.1" y2="864.1"/>
<line x1="86.2" x2="101.5" y1="864.1" y2="864.1"/>
<line x1="26.0" x2="41.3" y1="956.9" y2="956.9"/>
<line x1="86.2" x2="101.5" y1="956.9" y2="956.9"/>
<line x1="26.0" x2="41.3" y1="1049.6" y2="1049.6"/>
<line x1="86.2" x2="101.5" y1="1049.6" y2="1049.6"/>
<line x1="26.0" x2="41.3" y1="1142.4" y2="1142.4"/>
<line x1="86.2" x2="101.5" y1="1142.4" y2="1142.4"/>
</g>
<text transform="translate(118.00 786.80) scale(0.9500 1)" font-size="47.00">1.0</text>
<text transform="translate(118.00 879.58) scale(0.9500 1)" font-size="47.00">0.5</text>
<text transform="translate(118.00 972.35) scale(0.9500 1)" font-size="47.00">0.0</text>
<text transform="translate(115.80 1064.92) scale(1.1000 1)" font-size="47.00">−</text>
<text transform="translate(142.60 1065.12) scale(0.9500 1)" font-size="47.00">0.5</text>
<text transform="translate(115.80 1157.70) scale(1.1000 1)" font-size="47.00">−</text>
<text transform="translate(142.60 1157.90) scale(0.9500 1)" font-size="47.00">1.0</text>
</svg></body></html>
